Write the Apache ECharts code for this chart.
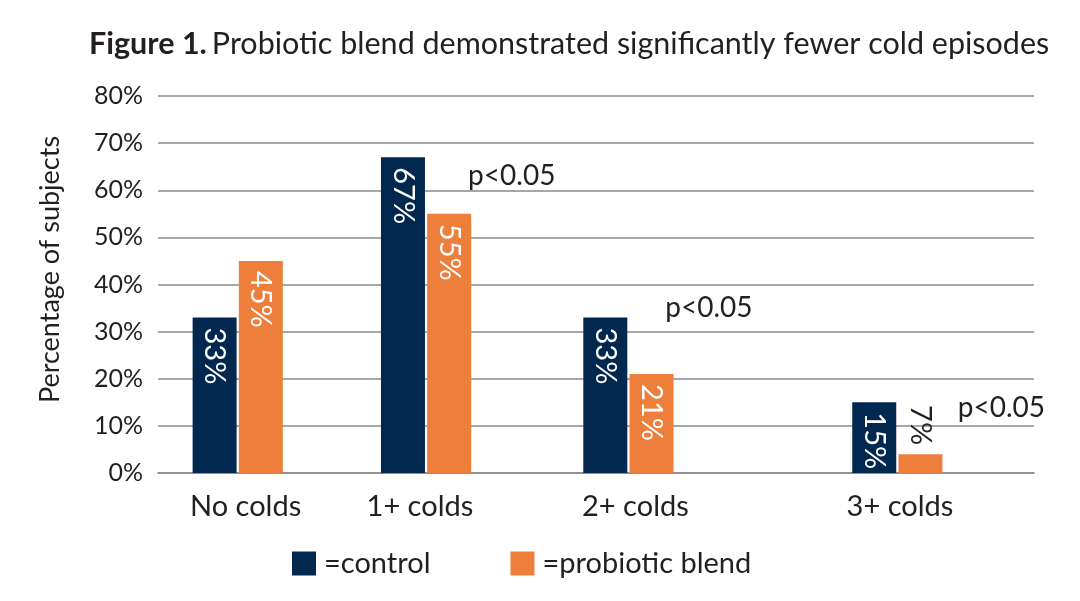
<!DOCTYPE html>
<html>
<head>
<meta charset="utf-8">
<script src="https://cdn.jsdelivr.net/npm/echarts@6/dist/echarts.min.js"></script>
<style>html,body{margin:0;padding:0;background:#fff}#c{width:1080px;height:601px}</style>
</head>
<body>
<div id="c"></div>
<script>
// ---- data ----
const categories = ['No colds', '1+ colds', '2+ colds', '3+ colds'];
const catPos = [9.1, 30.6, 53.7, 84.4];           // bar-group centres on a 0-100 x scale (uneven spacing in original)
const catLabelPos = [10.0, 29.9, 54.5, 84.7];     // where the category names sit
const controlValues = [33, 67, 33, 15];
const controlLabels = ['33%', '67%', '33%', '15%'];
const probioticValues = [45, 55, 21, 4];
const probioticLabels = ['45%', '55%', '21%', '7%'];
const yTicks = [0, 10, 20, 30, 40, 50, 60, 70, 80];
const pNotes = [                                   // [x, y] anchor of each annotation
  [35.4, 63.0],
  [57.9, 35.1],
  [91.3, 13.8]
];
const pText = 'p<0.05';

const FONT = 'Lato';
const TXT = '#231f20';
const NAVY = '#03284f';
const ORANGE = '#ee7e3b';

function barData(vals, labels) {
  return vals.map((v, i) => {
    const outside = v < 10;
    return {
      value: [catPos[i], v],
      label: outside ? {
        show: true, formatter: labels[i], position: 'top', rotate: -90,
        align: 'right', verticalAlign: 'middle', distance: 9, color: TXT,
        fontFamily: FONT, fontSize: 29
      } : {
        show: true, formatter: labels[i], position: 'insideTop', rotate: -90,
        align: 'left', verticalAlign: 'middle', distance: 10, color: '#fff',
        fontFamily: FONT, fontSize: 29
      }
    };
  });
}

const chart = echarts.init(document.getElementById('c'), null, {renderer: 'canvas'});
chart.setOption({
  animation: false,
  title: {
    text: '{b|Figure 1.} {r|Probiotic blend demonstrated significantly fewer cold episodes}',
    left: 84, top: 24,
    textStyle: {
      rich: {
        b: {fontFamily: FONT, fontWeight: 'bold', fontSize: 30.5, color: TXT},
        r: {fontFamily: FONT, fontWeight: 'normal', fontSize: 30.5, color: TXT}
      }
    }
  },
  legend: {
    left: 287, top: 544,
    itemWidth: 24, itemHeight: 24, itemGap: 80,
    icon: 'rect',
    formatter: n => '=' + n,
    textStyle: {fontFamily: FONT, fontSize: 29, color: TXT, padding: [0, 0, 0, 3]},
    data: ['control', 'probiotic blend']
  },
  grid: {left: 158, right: 46, top: 96, bottom: 601 - 473},
  xAxis: {
    type: 'value', min: 0, max: 100,
    splitLine: {show: false},
    axisTick: {show: false},
    axisLine: {show: true, lineStyle: {color: '#8a8a8a', width: 1.5}},
    axisLabel: {
      customValues: catLabelPos,
      formatter: v => { const i = catLabelPos.indexOf(v); return i >= 0 ? categories[i] : ''; },
      fontFamily: FONT, fontSize: 29, color: TXT, margin: 19
    }
  },
  yAxis: {
    type: 'value', min: 0, max: 80, interval: 10,
    name: 'Percentage of subjects', nameLocation: 'middle', nameGap: 94,
    nameTextStyle: {fontFamily: FONT, fontSize: 27, color: TXT, padding: [0, 0, 0, 30]},
    axisLine: {show: false}, axisTick: {show: false},
    axisLabel: {
      formatter: v => yTicks.includes(v) ? v + '%' : '',
      fontFamily: FONT, fontSize: 25, color: TXT, margin: 15
    },
    splitLine: {lineStyle: {color: '#8a8a8a', width: 1.5}}
  },
  series: [
    {
      name: 'control', type: 'bar', barWidth: 44, barGap: '5%',
      itemStyle: {color: NAVY},
      data: barData(controlValues, controlLabels)
    },
    {
      name: 'probiotic blend', type: 'bar', barWidth: 44, barGap: '5%',
      itemStyle: {color: ORANGE},
      data: barData(probioticValues, probioticLabels)
    },
    {
      name: 'notes', type: 'scatter', symbolSize: 0, silent: true,
      itemStyle: {opacity: 1},
      data: pNotes,
      label: {
        show: true, formatter: pText, position: 'inside', align: 'left', verticalAlign: 'middle',
        fontFamily: FONT, fontSize: 28, color: TXT, opacity: 1, textBorderWidth: 0
      }
    }
  ]
});
</script>
</body>
</html>
